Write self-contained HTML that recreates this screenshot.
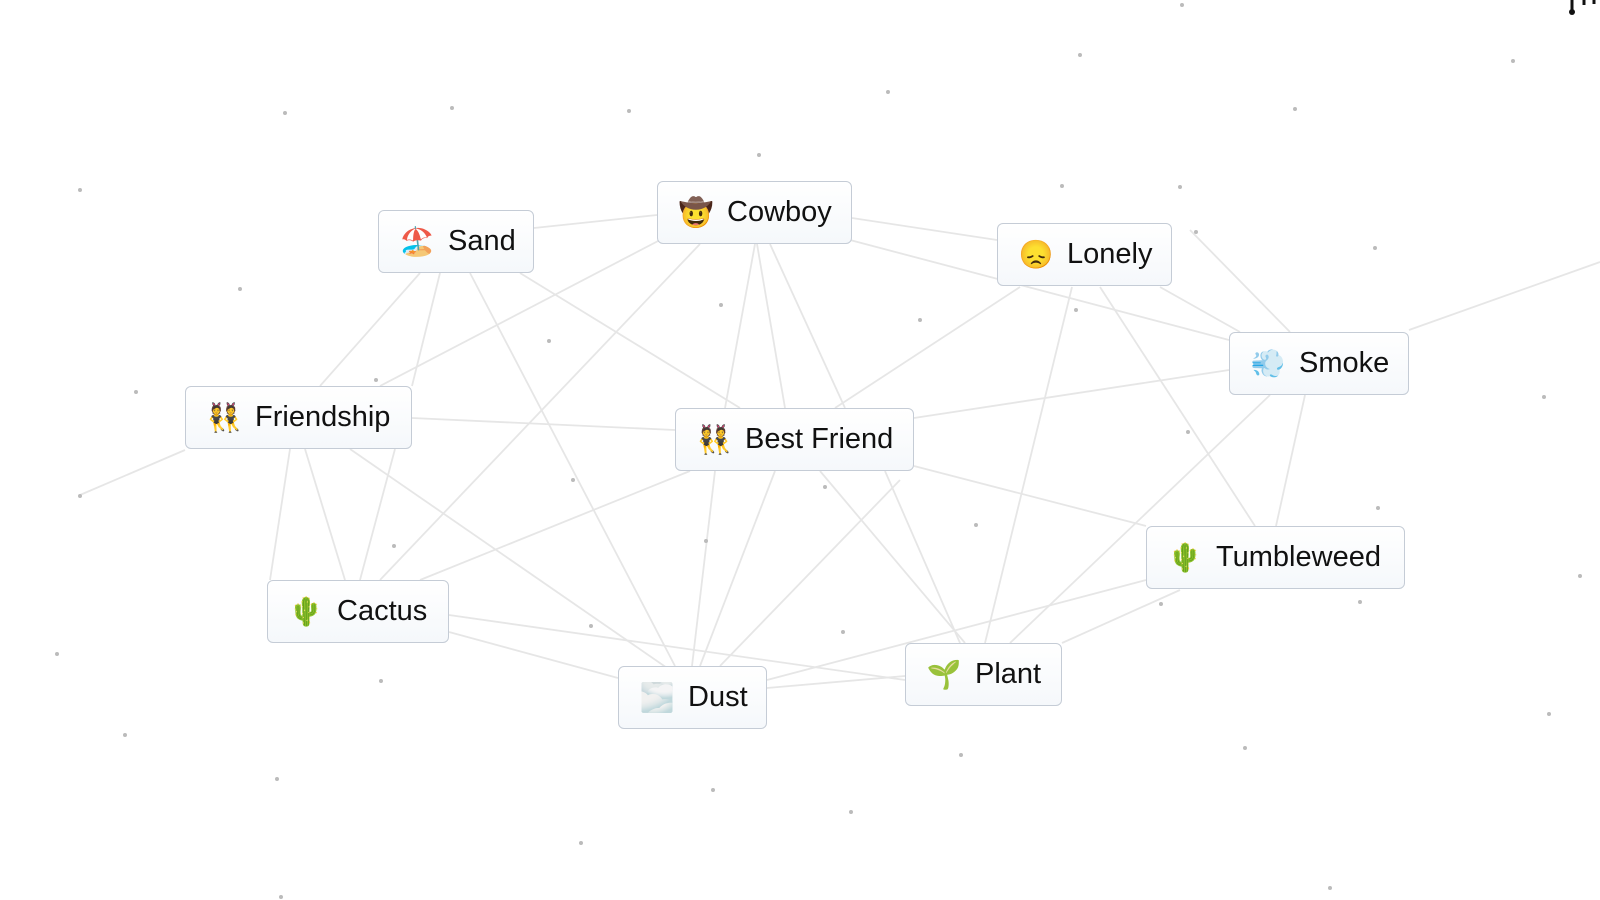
<!DOCTYPE html>
<html><head><meta charset="utf-8"><style>
html,body{margin:0;padding:0;width:1600px;height:900px;background:#fff;overflow:hidden;font-family:"Liberation Sans","DejaVu Sans",sans-serif}
svg{position:absolute;left:0;top:0}
.n{position:absolute;box-sizing:border-box;height:63px;border:1px solid #c5ccd6;border-radius:6px;background:linear-gradient(#fff,#f5f8fb);display:flex;align-items:center;padding-left:20px;font-size:29px;color:#111;white-space:nowrap}
.e{width:36px;font-size:28px;margin-right:13px;text-align:center;font-family:"Noto Color Emoji","DejaVu Sans",sans-serif}
</style></head><body>
<svg width="1600" height="900">
<g stroke="#e6e6e6" stroke-width="1.8">
<line x1="534" y1="228" x2="657" y2="215"/>
<line x1="420" y1="273" x2="320" y2="386"/>
<line x1="440" y1="273" x2="412" y2="386"/>
<line x1="520" y1="273" x2="740" y2="408"/>
<line x1="470" y1="273" x2="675" y2="666"/>
<line x1="852" y1="218" x2="997" y2="240"/>
<line x1="755" y1="244" x2="725" y2="408"/>
<line x1="757" y1="244" x2="785" y2="408"/>
<line x1="770" y1="244" x2="845" y2="408"/>
<line x1="660" y1="240" x2="380" y2="386"/>
<line x1="700" y1="244" x2="380" y2="580"/>
<line x1="850" y1="240" x2="1229" y2="340"/>
<line x1="1160" y1="287" x2="1240" y2="332"/>
<line x1="1020" y1="287" x2="835" y2="408"/>
<line x1="1100" y1="287" x2="1255" y2="526"/>
<line x1="1072" y1="287" x2="985" y2="643"/>
<line x1="1229" y1="370" x2="914" y2="418"/>
<line x1="1305" y1="395" x2="1276" y2="526"/>
<line x1="1270" y1="395" x2="1010" y2="643"/>
<line x1="1190" y1="230" x2="1290" y2="332"/>
<line x1="1409" y1="330" x2="1600" y2="262"/>
<line x1="412" y1="418" x2="675" y2="430"/>
<line x1="290" y1="449" x2="270" y2="580"/>
<line x1="305" y1="449" x2="345" y2="580"/>
<line x1="395" y1="449" x2="360" y2="580"/>
<line x1="350" y1="449" x2="670" y2="670"/>
<line x1="185" y1="450" x2="80" y2="495"/>
<line x1="690" y1="471" x2="420" y2="580"/>
<line x1="775" y1="471" x2="700" y2="666"/>
<line x1="715" y1="471" x2="692" y2="666"/>
<line x1="820" y1="471" x2="965" y2="643"/>
<line x1="885" y1="471" x2="960" y2="643"/>
<line x1="914" y1="466" x2="1146" y2="526"/>
<line x1="1180" y1="590" x2="1062" y2="643"/>
<line x1="1146" y1="580" x2="767" y2="680"/>
<line x1="449" y1="632" x2="618" y2="678"/>
<line x1="449" y1="615" x2="905" y2="680"/>
<line x1="767" y1="688" x2="905" y2="676"/>
<line x1="900" y1="480" x2="720" y2="666"/>
</g>
<g fill="#bbb">
<circle cx="285" cy="113" r="2"/><circle cx="452" cy="108" r="2"/><circle cx="629" cy="111" r="2"/><circle cx="888" cy="92" r="2"/><circle cx="1080" cy="55" r="2"/><circle cx="1182" cy="5" r="2"/><circle cx="1513" cy="61" r="2"/><circle cx="1295" cy="109" r="2"/><circle cx="80" cy="190" r="2"/><circle cx="240" cy="289" r="2"/><circle cx="759" cy="155" r="2"/><circle cx="1062" cy="186" r="2"/><circle cx="1180" cy="187" r="2"/><circle cx="1196" cy="232" r="2"/><circle cx="1375" cy="248" r="2"/><circle cx="721" cy="305" r="2"/><circle cx="920" cy="320" r="2"/><circle cx="1076" cy="310" r="2"/><circle cx="549" cy="341" r="2"/><circle cx="376" cy="380" r="2"/><circle cx="136" cy="392" r="2"/><circle cx="1544" cy="397" r="2"/><circle cx="1188" cy="432" r="2"/><circle cx="573" cy="480" r="2"/><circle cx="825" cy="487" r="2"/><circle cx="976" cy="525" r="2"/><circle cx="1378" cy="508" r="2"/><circle cx="80" cy="496" r="2"/><circle cx="394" cy="546" r="2"/><circle cx="706" cy="541" r="2"/><circle cx="1580" cy="576" r="2"/><circle cx="1161" cy="604" r="2"/><circle cx="1360" cy="602" r="2"/><circle cx="591" cy="626" r="2"/><circle cx="843" cy="632" r="2"/><circle cx="57" cy="654" r="2"/><circle cx="381" cy="681" r="2"/><circle cx="125" cy="735" r="2"/><circle cx="1549" cy="714" r="2"/><circle cx="1245" cy="748" r="2"/><circle cx="961" cy="755" r="2"/><circle cx="277" cy="779" r="2"/><circle cx="713" cy="790" r="2"/><circle cx="851" cy="812" r="2"/><circle cx="581" cy="843" r="2"/><circle cx="1330" cy="888" r="2"/><circle cx="281" cy="897" r="2"/>
</g>
<g stroke="#111" stroke-width="3"><line x1="1572" y1="0" x2="1572" y2="12"/><line x1="1584" y1="0" x2="1584" y2="5"/><line x1="1594" y1="0" x2="1594" y2="4"/></g>
<circle cx="1572" cy="12" r="3" fill="#111"/>
</svg>
<div class="n" style="left:378px;top:210px;width:156px"><span class="e">🏖️</span>Sand</div>
<div class="n" style="left:657px;top:181px;width:195px"><span class="e">🤠</span>Cowboy</div>
<div class="n" style="left:997px;top:223px;width:175px"><span class="e">😞</span>Lonely</div>
<div class="n" style="left:1229px;top:332px;width:180px"><span class="e">💨</span>Smoke</div>
<div class="n" style="left:185px;top:386px;width:227px"><span class="e">👯</span>Friendship</div>
<div class="n" style="left:675px;top:408px;width:239px"><span class="e">👯</span>Best Friend</div>
<div class="n" style="left:1146px;top:526px;width:259px"><span class="e">🌵</span>Tumbleweed</div>
<div class="n" style="left:267px;top:580px;width:182px"><span class="e">🌵</span>Cactus</div>
<div class="n" style="left:905px;top:643px;width:157px"><span class="e">🌱</span>Plant</div>
<div class="n" style="left:618px;top:666px;width:149px"><span class="e">🌫️</span>Dust</div>
</body></html>
